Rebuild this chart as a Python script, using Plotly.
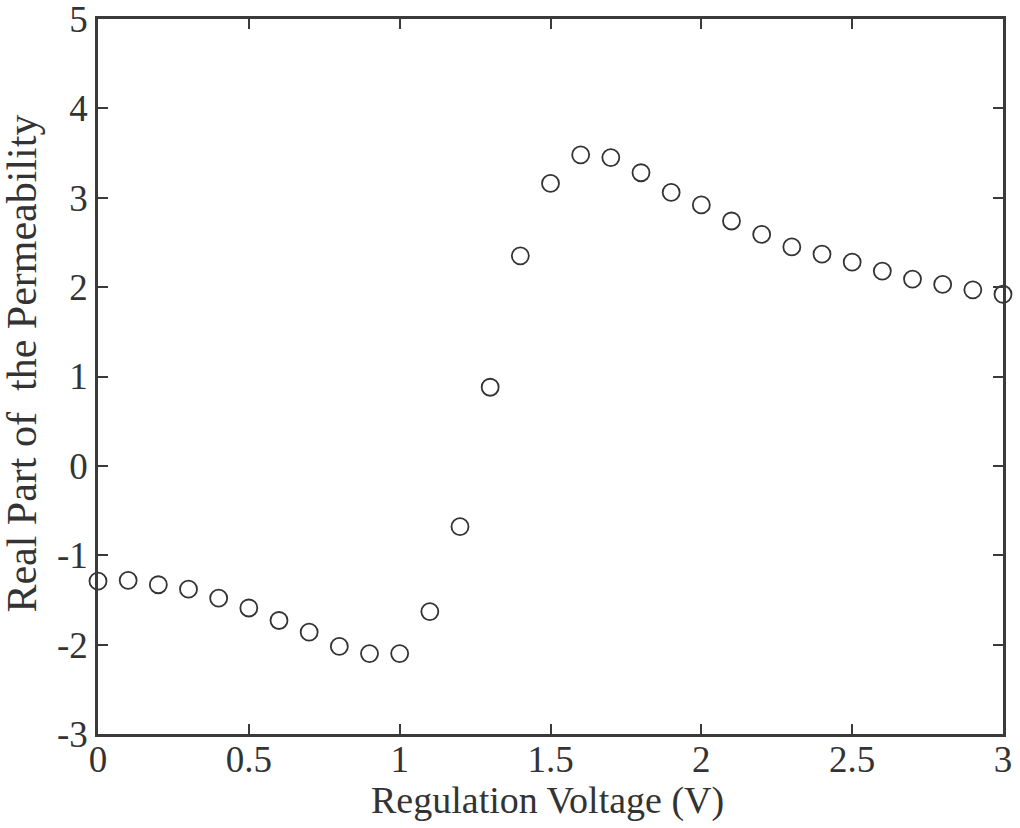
import plotly.graph_objects as go

voltage = [0.0, 0.1, 0.2, 0.3, 0.4, 0.5, 0.6, 0.7, 0.8, 0.9, 1.0,
           1.1, 1.2, 1.3, 1.4, 1.5, 1.6, 1.7, 1.8, 1.9, 2.0,
           2.1, 2.2, 2.3, 2.4, 2.5, 2.6, 2.7, 2.8, 2.9, 3.0]
permeability = [-1.29, -1.28, -1.33, -1.38, -1.48, -1.59, -1.73, -1.86, -2.02, -2.10, -2.10,
                -1.63, -0.68, 0.88, 2.35, 3.16, 3.48, 3.45, 3.28, 3.06, 2.92,
                2.74, 2.59, 2.45, 2.37, 2.28, 2.18, 2.09, 2.03, 1.97, 1.92]

x_ticks = [0, 0.5, 1, 1.5, 2, 2.5, 3]
x_tick_labels = ["0", "0.5", "1", "1.5", "2", "2.5", "3"]
y_ticks = [-3, -2, -1, 0, 1, 2, 3, 4, 5]
y_tick_labels = ["-3", "-2", "-1", "0", "1", "2", "3", "4", "5"]
x_title = "Regulation Voltage (V)"
y_title = "Real Part of  the Permeability"

fig = go.Figure()
fig.add_trace(go.Scatter(
    x=voltage, y=permeability, mode="markers",
    marker=dict(symbol="circle-open", size=17, color="#333333",
                line=dict(width=1.8, color="#333333")),
    cliponaxis=False, showlegend=False,
))

font_family = "Liberation Serif, Times New Roman, serif"
axis_color = "#3a3a3a"

fig.update_layout(
    width=1020, height=828,
    margin=dict(l=98, r=17, t=19, b=94),
    paper_bgcolor="white", plot_bgcolor="white",
    font=dict(family=font_family, size=37, color="#333333"),
    xaxis=dict(
        range=[0, 3], tickvals=x_ticks, ticktext=x_tick_labels,
        ticks="inside", ticklen=10, tickwidth=2, tickcolor=axis_color,
        showline=True, linewidth=2.5, linecolor=axis_color, mirror="allticks",
        showgrid=False, zeroline=False, ticklabeloverflow="allow", automargin=False,
        ticklabelstandoff=-9,
        tickfont=dict(size=37),
    ),
    yaxis=dict(
        range=[-3, 5], tickvals=y_ticks, ticktext=y_tick_labels,
        ticks="inside", ticklen=10, tickwidth=2, tickcolor=axis_color,
        showline=True, linewidth=2.5, linecolor=axis_color, mirror="allticks",
        showgrid=False, zeroline=False, ticklabeloverflow="allow", automargin=False,
        tickfont=dict(size=37),
    ),
    annotations=[
        dict(text=x_title, xref="paper", yref="paper", x=0.4967, y=-0.093,
             xanchor="center", yanchor="middle", showarrow=False,
             font=dict(size=38, family=font_family, color="#333333")),
        dict(text=y_title, xref="paper", yref="paper", x=-0.084, y=0.518,
             xanchor="center", yanchor="middle", textangle=-90, showarrow=False,
             font=dict(size=42, family=font_family, color="#333333")),
    ],
)

fig.write_html("out.html")
